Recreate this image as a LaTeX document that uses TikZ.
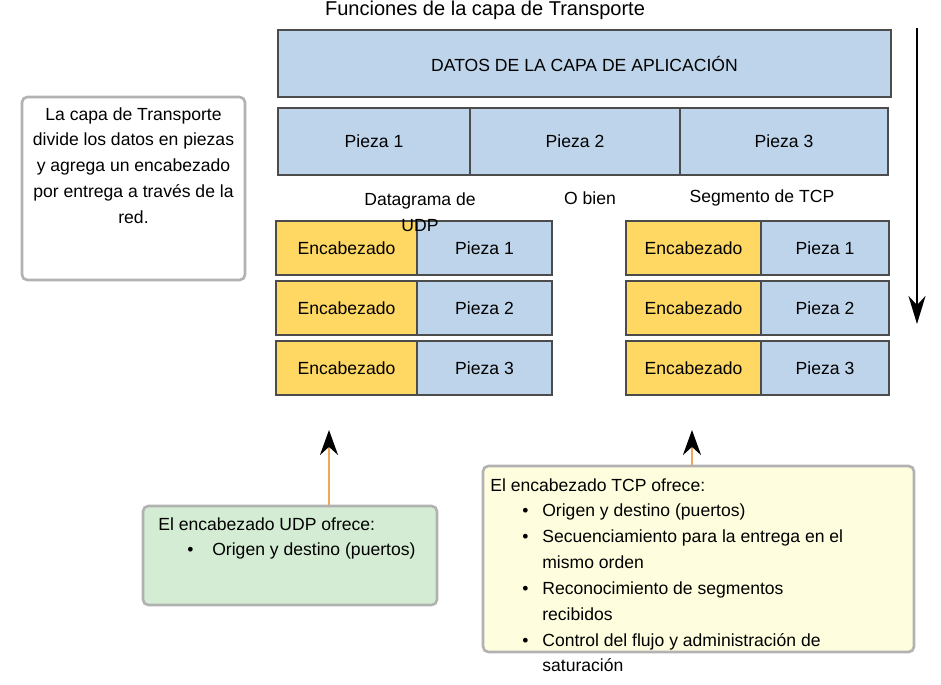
\documentclass[tikz,border=0pt]{standalone}
\usepackage{fontspec}
\setmainfont{Liberation Sans}
\usetikzlibrary{arrows.meta}

\definecolor{celeste}{RGB}{190,212,234}
\definecolor{amarillo}{RGB}{254,216,98}
\definecolor{verde}{RGB}{211,236,211}
\definecolor{crema}{RGB}{254,254,222}
\definecolor{naranja}{RGB}{240,168,88}

\begin{document}
\begin{tikzpicture}[x=0.02cm, y=-0.02cm,
    font=\fontsize{10}{14.7}\selectfont,
    cell/.style={draw=black!70, line width=0.8pt, inner sep=0pt},
    dato/.style={cell, fill=celeste},
    cab/.style={cell, fill=amarillo, minimum width=2.82cm, minimum height=1.08cm},
    caja/.style={draw=black!30, line width=1.5pt, rounded corners=3pt, inner sep=0pt},
    txt/.style={inner sep=0pt, align=left},
    flecha/.style={-{Stealth[black, length=0.5cm, width=0.36cm]}, naranja, line width=1.5pt}]
    \useasboundingbox (0,0) rectangle (941,684);
    \node (tt) at (485, 10) {\fontsize{11.4}{14.7}\selectfont Funciones de la capa de Transporte};
    % datos y piezas
    \node[dato, minimum width=12.26cm, minimum height=1.34cm] (ap) at (584.5, 63.5) {DATOS DE LA CAPA DE APLICACIÓN};
    \node[dato, minimum width=3.84cm, minimum height=1.34cm] (p1) at (374, 141.5) {Pieza 1};
    \node[dato, minimum width=4.2cm, minimum height=1.34cm] (p2) at (575, 141.5) {Pieza 2};
    \node[dato, minimum width=4.16cm, minimum height=1.34cm] (p3) at (784, 141.5) {Pieza 3};
    % texto de la izquierda
    \node[caja, fill=white, minimum width=4.46cm, minimum height=3.66cm] (iz) at (133.5, 188.5) {};
    \node[txt, align=center, anchor=north] (izt) at (133.5, 107) {La capa de Transporte\\
      divide los datos en piezas\\ y agrega un encabezado\\ por entrega a través de la\\ red.};
    % UDP
    \node (ob) at (590, 198) {O bien};
    \node (st) at (762, 198) {Segmento de TCP};
    \node[cab] (a1) at (346.5, 248) {Encabezado};
    \node[dato, minimum width=2.7cm, minimum height=1.08cm] (b1) at (484.5, 248) {Pieza 1};
    \node[cab] (a2) at (346.5, 308) {Encabezado};
    \node[dato, minimum width=2.7cm, minimum height=1.08cm] (b2) at (484.5, 308) {Pieza 2};
    \node[cab] (a3) at (346.5, 368) {Encabezado};
    \node[dato, minimum width=2.7cm, minimum height=1.08cm] (b3) at (484.5, 368) {Pieza 3};
    \node[txt, align=center] (du) at (420, 212) {Datagrama de\\ UDP};
    % TCP
    \node[cab, minimum width=2.7cm] (c1) at (693.5, 248) {Encabezado};
    \node[dato, minimum width=2.56cm, minimum height=1.08cm] (d1) at (825, 248) {Pieza 1};
    \node[cab, minimum width=2.7cm] (c2) at (693.5, 308) {Encabezado};
    \node[dato, minimum width=2.56cm, minimum height=1.08cm] (d2) at (825, 308) {Pieza 2};
    \node[cab, minimum width=2.7cm] (c3) at (693.5, 368) {Encabezado};
    \node[dato, minimum width=2.56cm, minimum height=1.08cm] (d3) at (825, 368) {Pieza 3};
    % flecha de la derecha
    \coordinate (fa) at (917, 28);
    \coordinate (fb) at (917, 324);
    \draw[-{Stealth[length=0.56cm, width=0.34cm]}, line width=1.7pt] (fa) -- (fb);
    % cuadros de abajo
    \node[caja, fill=verde, minimum width=5.88cm, minimum height=1.98cm] (ud) at (290, 555.5) {};
    \node[txt, anchor=north west] (udt) at (158, 517) {El encabezado UDP ofrece:\\
      \hspace*{0.58cm}\makebox[0.5cm][l]{•}Origen y destino (puertos)};
    \node[caja, fill=crema, minimum width=8.62cm, minimum height=3.72cm] (tc) at (698.5, 559) {};
    \node[txt, anchor=north west] (tct) at (490, 478) {El encabezado TCP ofrece:\\
      \hspace*{0.64cm}\makebox[0.4cm][l]{•}Origen y destino (puertos)\\
      \hspace*{0.64cm}\makebox[0.4cm][l]{•}Secuenciamiento para la entrega en el\\
      \hspace*{1.04cm}mismo orden\\
      \hspace*{0.64cm}\makebox[0.4cm][l]{•}Reconocimiento de segmentos\\
      \hspace*{1.04cm}recibidos\\
      \hspace*{0.64cm}\makebox[0.4cm][l]{•}Control del flujo y administración de\\
      \hspace*{1.04cm}saturación};
    \coordinate (ua) at (329, 430);
    \coordinate (ta) at (692, 430);
    \draw[flecha] (ud.north -| ua) -- (ua);
    \draw[flecha] (tc.north -| ta) -- (ta);
\end{tikzpicture}
\end{document}
